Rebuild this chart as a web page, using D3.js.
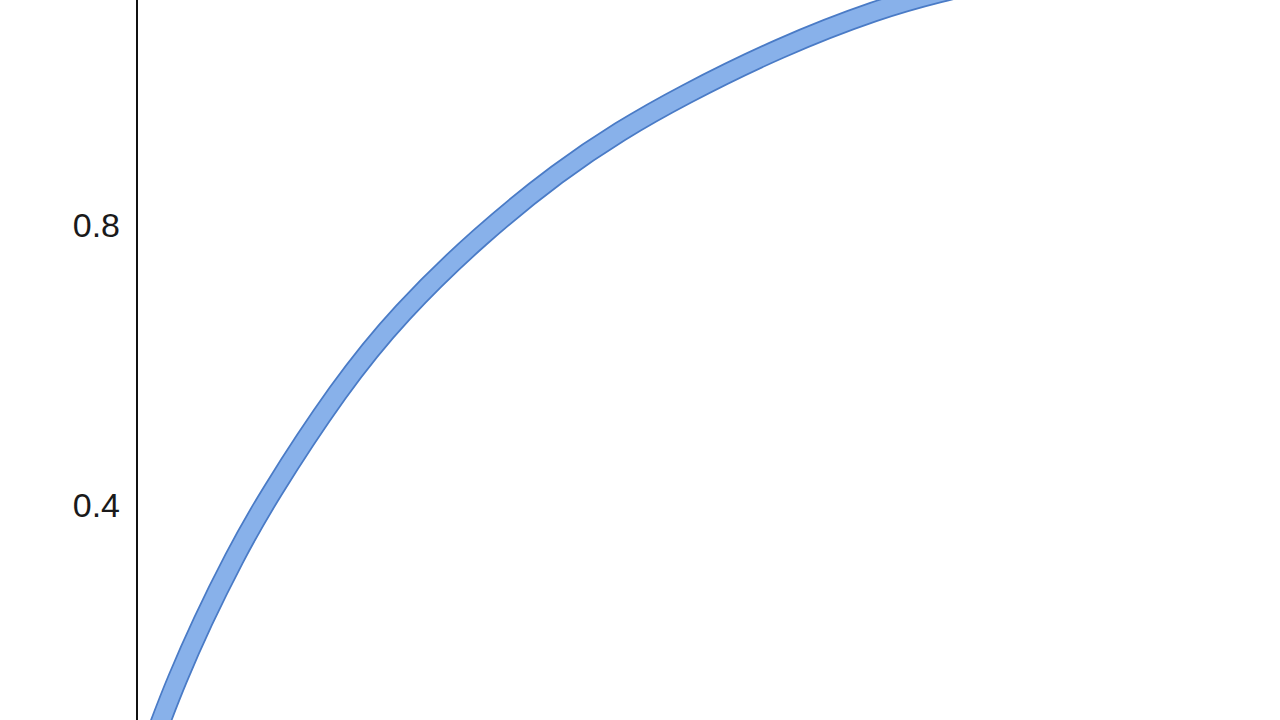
<!DOCTYPE html>
<html>
<head>
<meta charset="utf-8">
<script src="https://cdn.jsdelivr.net/npm/d3@7/dist/d3.min.js"></script>
<style>
  html, body { margin: 0; padding: 0; background: #ffffff; }
  svg { display: block; }
</style>
</head>
<body>
<svg id="chart" width="1280" height="720"></svg>
<script>
// Data
const xValues = [0, 0.23, 0.39, 0.65, 0.97, 1.29, 2.03, 2.63, 3.43, 4.23, 4.83, 5.43, 6.43, 7.43, 8.03, 8.63];
const yValues = [0, 0.090, 0.149, 0.234, 0.326, 0.409, 0.571, 0.676, 0.787, 0.879, 0.936, 0.985, 1.056, 1.111, 1.134, 1.154];
const yTickValues = [0.4, 0.8];
const yTickLabels = ["0.4", "0.8"];

const points = xValues.map((x, i) => ({ x, y: yValues[i] }));

const svg = d3.select("#chart");

const x = d3.scaleLinear().domain([0, 10]).range([137, 1137]);
const y = d3.scaleLinear().domain([0, 1.2]).range([786, -54]);

// Y axis
const yAxis = d3.axisLeft(y)
  .tickValues(yTickValues)
  .tickFormat((d, i) => yTickLabels[i])
  .tickSize(0)
  .tickPadding(17);

const axisG = svg.append("g")
  .attr("transform", `translate(${x(0)},0)`)
  .call(yAxis);

axisG.select(".domain")
  .attr("d", `M0,-5V730`)
  .attr("stroke", "#111")
  .attr("stroke-width", 2);

axisG.selectAll("text")
  .attr("font-family", "'Liberation Sans', Arial, sans-serif")
  .attr("font-size", 34)
  .attr("fill", "#1a1a1a");

// Curve band
const line = d3.line()
  .x(d => x(d.x))
  .y(d => y(d.y))
  .curve(d3.curveBasis);

svg.append("path")
  .datum(points)
  .attr("d", line)
  .attr("fill", "none")
  .attr("stroke", "#4a7bc6")
  .attr("stroke-width", 21);

svg.append("path")
  .datum(points)
  .attr("d", line)
  .attr("fill", "none")
  .attr("stroke", "#88b1ea")
  .attr("stroke-width", 17.5);
</script>
</body>
</html>
